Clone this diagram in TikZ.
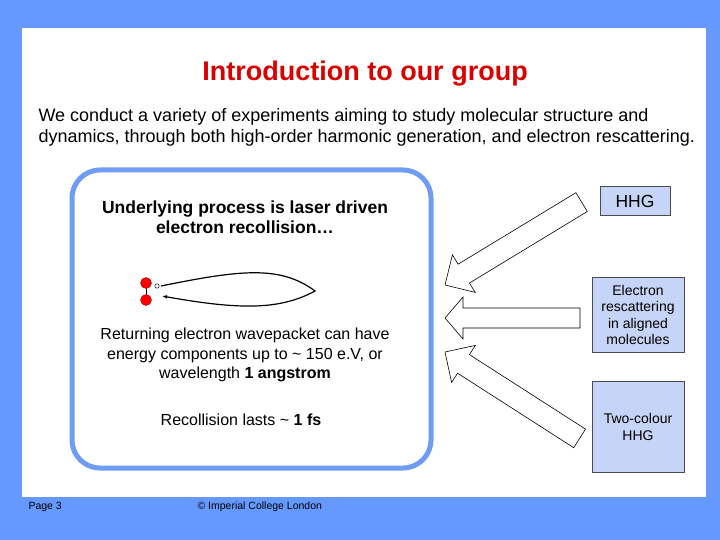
\documentclass[tikz,border=0pt]{standalone}
\usepackage{fontspec}
\setmainfont{Liberation Sans}
\usetikzlibrary{arrows.meta}
\definecolor{bgblue}{HTML}{6699FF}
\definecolor{boxblue}{HTML}{C6D4F7}
\definecolor{ringblue}{HTML}{6F9CF5}
\tikzset{blockarrow/.style={draw=black,fill=white,line width=0.6pt},
 infobox/.style={draw=black!70,fill=boxblue,line width=0.6pt,align=center,inner sep=0pt,font=\fontsize{14}{16.5}\selectfont},
 body/.style={font=\fontsize{16}{19.5}\selectfont,align=center}}
\begin{document}
\begin{tikzpicture}[x=1pt,y=-1pt]
\fill[bgblue] (0,0) rectangle (720,540);
\fill[white] (22,28) rectangle (706,497);
\useasboundingbox (0,0) rectangle (720,540);
\node[font=\bfseries\fontsize{27}{30}\selectfont,text=red!85!black] (title) at (365,74) {Introduction to our group};
\node[anchor=west,align=left,font=\fontsize{18}{21}\selectfont] (intro) at (35,127) {We conduct a variety of experiments aiming to study molecular structure and\\dynamics, through both high-order harmonic generation, and electron rescattering.};
\draw[ringblue,line width=5pt,rounded corners=28pt] (72,170) rectangle (431,468);
\node[body,font=\bfseries\fontsize{17.5}{20}\selectfont] (under) at (245,217) {Underlying process is laser driven\\electron recollision\dots};
\node[body] (ret) at (245,355) {Returning electron wavepacket can have\\energy components up to \textasciitilde{} 150 e.V, or\\wavelength \textbf{1 angstrom}};
\node[body] (rec) at (241,420) {Recollision lasts \textasciitilde{} \textbf{1 fs}};
% molecule
\coordinate (a1) at (146,283); \coordinate (a2) at (146,300);
\draw[line width=1pt] (a1) -- (a2);
\fill[red,draw=red!60!black] (a1) circle (5.5);
\fill[red,draw=red!60!black] (a2) circle (5.5);
\draw[line width=0.5pt] (157,286) circle (2.2);
\coordinate (lstart) at (161,286); \coordinate (lfar) at (315,291); \coordinate (lend) at (162,296);
\draw[line width=1.2pt,-{Latex[length=5pt]}] (lstart) .. controls (240,270) and (280,265) .. (lfar) .. controls (280,310) and (240,310) .. (lend);
% arrows
\draw[blockarrow] (445,285) -- (475.2,292.4) -- (469.5,283.0) -- (587.3,211.5) -- (575.9,192.7) -- (458.1,264.2) -- (452.4,254.8) -- cycle;
\draw[blockarrow] (445,318) -- (463,297) -- (463,308) -- (580,308) -- (580,328) -- (463,328) -- (463,339) -- cycle;
\draw[blockarrow] (445,352) -- (451.6,382.4) -- (457.6,373.2) -- (573.7,447.7) -- (585.5,429.1) -- (469.4,354.6) -- (475.4,345.4) -- cycle;
\node[infobox,minimum width=70pt,minimum height=29pt,font=\fontsize{17.5}{20}\selectfont] (hhg) at (635,201) {HHG};
\node[infobox,minimum width=92pt,minimum height=75pt] (ers) at (638,315) {Electron\\rescattering\\in aligned\\molecules};
\node[infobox,minimum width=92pt,minimum height=91pt] (two) at (638,427) {Two-colour\\HHG};
\node[anchor=west,font=\fontsize{10.5}{12}\selectfont] (page) at (25,507) {Page 3};
\node[anchor=west,font=\fontsize{10.5}{12}\selectfont] (copy) at (194,507) {© Imperial College London};
\end{tikzpicture}
\end{document}
